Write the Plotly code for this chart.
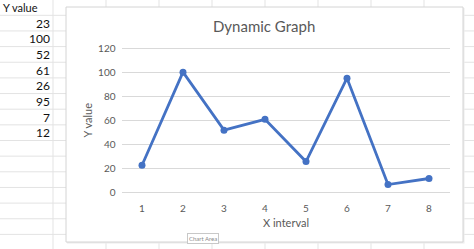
import plotly.graph_objects as go

x_interval = [1, 2, 3, 4, 5, 6, 7, 8]
y_value = [23, 100, 52, 61, 26, 95, 7, 12]
y_ticks = [0, 20, 40, 60, 80, 100, 120]
title_text = "Dynamic Graph"
x_title = "X interval"
y_title = "Y value"
col_header = "Y value"

W, H = 474, 249
FONT = "Lato"
GREY = "#595959"

def px(x):
    return x / W

def py(y):
    return 1 - y / H

shapes = []
# spreadsheet grid lines
row_h = 15.65
k = 0
while 15.3 + row_h * k < H:
    yy = 15.3 + row_h * k
    shapes.append(dict(type="line", xref="paper", yref="paper", x0=0, x1=1,
                       y0=py(yy), y1=py(yy), line=dict(color="#e3e3e3", width=1), layer="below"))
    k += 1
for k in range(1, 9):
    xx = 53 * k
    shapes.append(dict(type="line", xref="paper", yref="paper", x0=px(xx), x1=px(xx),
                       y0=0, y1=1, line=dict(color="#e3e3e3", width=1), layer="below"))
# chart area shadow + box
shapes.append(dict(type="rect", xref="paper", yref="paper", x0=px(67), x1=px(464.5),
                   y0=py(243.5), y1=py(8), fillcolor="#ececec", line=dict(width=0), layer="below"))
shapes.append(dict(type="rect", xref="paper", yref="paper", x0=px(66), x1=px(463),
                   y0=py(242), y1=py(7), fillcolor="white", line=dict(color="#d4d4d4", width=1), layer="below"))

annotations = []
annotations.append(dict(text=col_header, xref="paper", yref="paper", x=px(2), y=py(8),
                        xanchor="left", yanchor="middle", showarrow=False, borderpad=0,
                        font=dict(family=FONT, size=11, color="#111111")))
for i, v in enumerate(y_value):
    annotations.append(dict(text=str(v), xref="paper", yref="paper", x=px(51), y=py(7.5 + row_h * (i + 1)),
                            xanchor="right", yanchor="middle", showarrow=False, borderpad=0,
                            font=dict(family=FONT, size=12, color="#111111")))
annotations.append(dict(text=title_text, xref="paper", yref="paper", x=px(264), y=py(26),
                        xanchor="center", yanchor="middle", showarrow=False,
                        font=dict(family=FONT, size=15, color=GREY)))
annotations.append(dict(text=x_title, xref="paper", yref="paper", x=px(285.5), y=py(222),
                        xanchor="center", yanchor="middle", showarrow=False,
                        font=dict(family=FONT, size=11, color=GREY)))
annotations.append(dict(text=y_title, xref="paper", yref="paper", x=px(87), y=py(120.5),
                        xanchor="center", yanchor="middle", showarrow=False, textangle=-90,
                        font=dict(family=FONT, size=11, color=GREY)))
annotations.append(dict(text="Chart Area", xref="paper", yref="paper", x=px(203), y=py(238),
                        xanchor="center", yanchor="middle", showarrow=False,
                        font=dict(family=FONT, size=6, color="#8a8a8a"),
                        bgcolor="white", bordercolor="#c8c8c8", borderwidth=1, borderpad=1))

fig = go.Figure()
fig.add_trace(go.Scatter(x=x_interval, y=y_value, mode="lines+markers",
                         line=dict(color="#4472C4", width=2.8),
                         marker=dict(color="#4472C4", size=7), hoverinfo="skip"))

fig.update_layout(
    template="none",
    width=W, height=H, margin=dict(l=0, r=0, t=0, b=0, pad=0, autoexpand=False),
    paper_bgcolor="white", plot_bgcolor="rgba(0,0,0,0)",
    showlegend=False, shapes=shapes, annotations=annotations,
    xaxis=dict(domain=[121.5 / W, 449.5 / W], range=[0.5, 8.5], tickvals=x_interval,
               showgrid=False, zeroline=False, showline=False, ticks="", automargin=False,
               ticklabelstandoff=7,
               tickfont=dict(family=FONT, size=10, color=GREY), fixedrange=True),
    yaxis=dict(domain=[(H - 194.2) / H, (H - 46.8) / H], range=[-1, 121], tickvals=y_ticks,
               showgrid=True, gridcolor="#d9d9d9", gridwidth=1, zeroline=False, showline=False,
               ticks="", ticklabelstandoff=5, automargin=False,
               tickfont=dict(family=FONT, size=10, color=GREY), fixedrange=True),
)

fig.write_html("out.html", config={"displayModeBar": False},
               post_script="document.body.style.margin='0';document.body.style.overflow='hidden';")
